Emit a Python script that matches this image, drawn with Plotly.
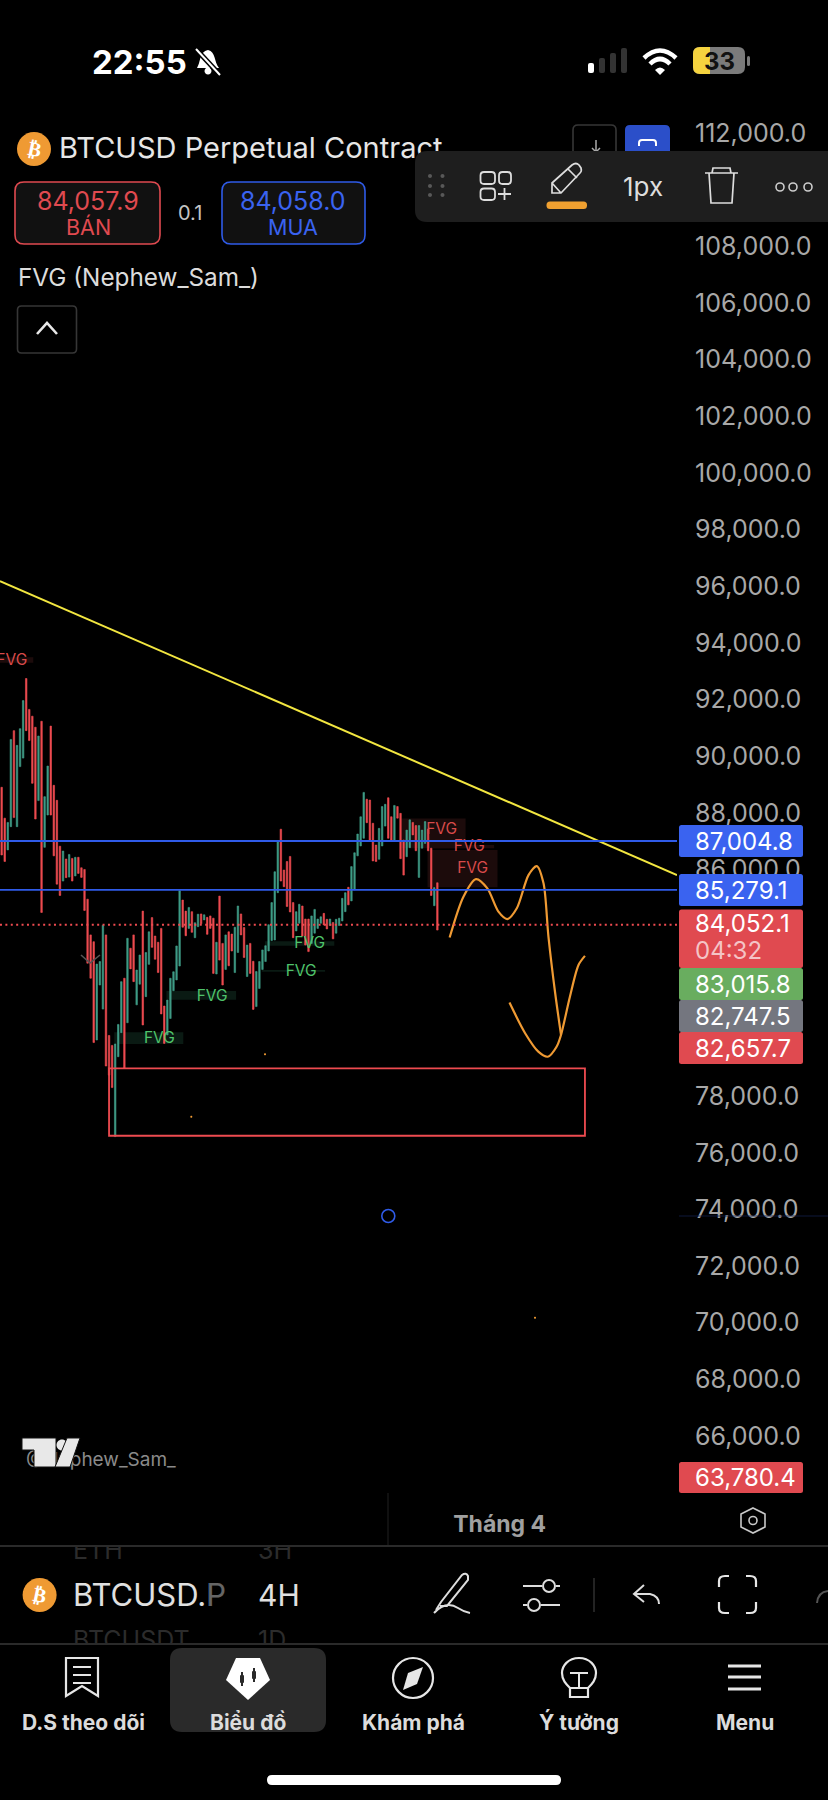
"""
BTCUSD.P 4H chart screen with FVG boxes, levels and a hand drawn path.
"""

import plotly.graph_objects as go

# price data
opens = [
    88900, 87810, 86690, 87510, 90900, 87510, 89630, 89930, 92740, 91650,
    91410, 91020, 88430, 91230, 86780, 87920, 91060, 88970, 88440, 86820,
    85590, 86370, 85730, 86390, 85770, 86430, 86060, 86000, 84950, 83690,
    83450, 79980, 81920, 81070, 83690, 80140, 79790, 76570, 79390, 80240,
    82160, 80590, 83220, 83690, 81220, 81950, 84530, 81510, 82650, 84300,
    83650, 83430, 83920, 81180, 80160, 80740, 81720, 82100, 82590, 84920,
    84530, 83920, 84510, 83590, 83980, 84430, 84220, 84310, 84360, 84280,
    82310, 85060, 83390, 82470, 83800, 83720, 82360, 83070, 84430, 83950,
    82220, 83390, 82760, 81160, 81800, 82470, 82750, 83120, 83490, 83510,
    85180, 87420, 85980, 86280, 86460, 84830, 83830, 84100, 84710, 84250,
    84250, 83390, 83750, 83920, 84100, 84450, 84240, 84020, 84130, 83750,
    84020, 84180, 84510, 85370, 84890, 85280, 86480, 86830, 87100, 88480,
    88450, 87630, 86860, 86360, 86830, 87530, 88530, 87860, 87000, 88220,
    87980, 87040, 86450, 86770, 87660, 87550, 85720, 86750, 86920, 87430,
    86750, 84720, 85530,
]
closes = [
    86510, 86280, 87660, 90590, 87830, 90380, 90970, 91960, 90900, 90550,
    89040, 87780, 90710, 84480, 88570, 89650, 87920, 86480, 85480, 85080,
    86650, 85710, 86530, 85590, 86430, 85860, 85720, 84550, 82690, 82160,
    79890, 82660, 82750, 84030, 79060, 78740, 78300, 79840, 80530, 82040,
    78980, 83570, 82490, 82040, 82450, 82980, 80510, 83070, 83800, 83250,
    82830, 82360, 80900, 79860, 81390, 82160, 82390, 83300, 85250, 83960,
    83660, 84660, 83780, 84120, 84420, 84080, 84400, 83710, 83920, 82330,
    83430, 82800, 81920, 83690, 82600, 83120, 83960, 84710, 83690, 82890,
    83330, 82330, 81060, 82400, 82750, 83160, 83310, 84050, 84830, 85920,
    86980, 85590, 85390, 84690, 84500, 83590, 84510, 84770, 83650, 83330,
    83100, 84360, 84590, 84250, 84330, 84040, 83900, 84250, 83550, 84240,
    84280, 84980, 85180, 84750, 86100, 86590, 87250, 87860, 88720, 87650,
    87040, 86300, 86280, 87450, 88220, 88300, 87100, 87040, 88260, 87810,
    86380, 85800, 87390, 87750, 87220, 86660, 87550, 87390, 87690, 86660,
    85080, 85360, 83860,
]
bar_index = list(range(len(opens)))

tick_prices = [p * 1000 for p in range(66, 114, 2)]
tick_labels = [f"{p:,.1f}" for p in tick_prices]

blue_levels = [87004.8, 85279.1]
last_price = 84052.1
trend_x = [-0.55, 220.1]
trend_y = [96180, 85800]
support_x = [35.0, 190.1]
support_y = [76600, 78980]

# hand drawn path, two strokes
stroke_a_x = [146.0, 150.5, 154.6, 158.3, 161.9, 164.8, 167.9, 171.7, 174.4, 176.6, 178.2, 180.4, 182.3]
stroke_a_y = [83600, 85040, 85660, 85330, 84510, 84250, 84630, 85800, 86120, 85510, 83630, 81630, 80160]
stroke_b_x = [165.5, 170.6, 174.9, 178.0, 180.9, 182.3, 185.2, 188.0, 190.1]
stroke_b_y = [81300, 80220, 79570, 79390, 79750, 80160, 81510, 82630, 82950]

# FVG boxes: x0, x1, y0, y1, label x, label y
fvg_green = [
    (36.7, 59.2, 79840, 80250, 51.4, 80015),
    (53.7, 76.4, 81400, 81710, 68.6, 81510),
    (85.8, 108.4, 83310, 83470, 100.4, 83360),
    (84.8, 105.4, 82390, 82450, 97.6, 82390),
]
fvg_red = [
    (-0.55, 10.3, 93300, 93490, 3.3, 93340),
    (130.4, 151.2, 86750, 87800, 143.4, 87390),
    (139.6, 160.5, 86750, 86860, 152.4, 86780),
    (138.8, 161.6, 85370, 86690, 153.5, 86000),
]

# right hand price tags
tag_rows = [
    ("87,004.8", 825, 857, "#3a63f0"),
    ("85,279.1", 874, 906, "#3a63f0"),
    ("83,015.8", 968, 1000, "#69ad5f"),
    ("82,747.5", 1000, 1032, "#74767f"),
    ("82,657.7", 1032, 1064, "#e04a50"),
    ("63,780.4", 1462, 1493, "#e04a50"),
]

tab_labels = ["D.S theo dõi", "Biểu đồ", "Khám phá", "Ý tưởng", "Menu"]
tab_centers = [83, 248, 413, 579, 744.5]

RED = "#ee4b50"
GREEN = "#3f9c86"
BLUE = "#2f5be8"
ORANGE = "#ef9a33"
FONT = "Inter"

fig = go.Figure()


def rrect(x0, y0, x1, y1, r):
    """Rounded rectangle as an SVG path, in screen pixels."""
    return (
        f"M{x0 + r},{y0} L{x1 - r},{y0} Q{x1},{y0} {x1},{y0 + r} L{x1},{y1 - r} "
        f"Q{x1},{y1} {x1 - r},{y1} L{x0 + r},{y1} Q{x0},{y1} {x0},{y1 - r} "
        f"L{x0},{y0 + r} Q{x0},{y0} {x0 + r},{y0} Z"
    )


def ui(path, fill=None, line=None, width=2, opacity=1.0):
    fig.add_shape(
        type="path",
        path=path,
        xref="x2",
        yref="y2",
        layer="above",
        fillcolor=fill if fill else "rgba(0,0,0,0)",
        line=dict(color=line if line else "rgba(0,0,0,0)", width=width if line else 0),
        opacity=opacity,
    )


def circle(cx, cy, r, ry=None):
    ry = ry or r
    return (
        f"M{cx - r},{cy} C{cx - r},{cy - ry * 0.55} {cx - r * 0.55},{cy - ry} {cx},{cy - ry} "
        f"C{cx + r * 0.55},{cy - ry} {cx + r},{cy - ry * 0.55} {cx + r},{cy} "
        f"C{cx + r},{cy + ry * 0.55} {cx + r * 0.55},{cy + ry} {cx},{cy + ry} "
        f"C{cx - r * 0.55},{cy + ry} {cx - r},{cy + ry * 0.55} {cx - r},{cy} Z"
    )


def txt(x, y, s, size, color="#e6e6e6", anchor="center", weight=None, family=FONT, angle=0):
    fig.add_annotation(
        x=x,
        y=y,
        xref="x2",
        yref="y2",
        text=f"<b>{s}</b>" if weight else s,
        showarrow=False,
        xanchor=anchor,
        yanchor="middle",
        textangle=angle,
        font=dict(family=family, size=size, color=color),
    )


def under_text(x, y, s, size, color):
    # text that has to sit below the overlay shapes
    fig.add_trace(
        go.Scatter(
            x=[x],
            y=[y],
            xaxis="x2",
            yaxis="y2",
            mode="text",
            text=[s],
            textposition="middle right",
            textfont=dict(family=FONT, size=size, color=color),
            hoverinfo="skip",
            showlegend=False,
        )
    )


# FVG boxes sit under the candles
for box, fill in [(b, "#0a1a13") for b in fvg_green] + [(b, "#1c0b0b") for b in fvg_red]:
    fig.add_shape(
        type="rect",
        x0=box[0],
        x1=box[1],
        y0=box[2],
        y1=box[3],
        xref="x",
        yref="y",
        layer="below",
        fillcolor=fill,
        line=dict(width=0),
    )

fig.add_trace(
    go.Candlestick(
        x=bar_index,
        open=opens,
        close=closes,
        high=[max(o, c) for o, c in zip(opens, closes)],
        low=[min(o, c) for o, c in zip(opens, closes)],
        increasing=dict(line=dict(color=GREEN, width=0.6), fillcolor=GREEN),
        decreasing=dict(line=dict(color=RED, width=0.6), fillcolor=RED),
        whiskerwidth=0,
        hoverinfo="skip",
        showlegend=False,
    )
)

for level in blue_levels:
    fig.add_shape(
        type="line", x0=trend_x[0], x1=trend_x[1], y0=level, y1=level,
        xref="x", yref="y", line=dict(color=BLUE, width=1.8),
    )
fig.add_shape(
    type="line", x0=trend_x[0], x1=trend_x[1], y0=last_price, y1=last_price,
    xref="x", yref="y", line=dict(color=RED, width=2, dash="2px,3.4px"),
)

fig.add_trace(
    go.Scatter(
        x=trend_x, y=trend_y, mode="lines",
        line=dict(color="#f2e640", width=2), hoverinfo="skip", showlegend=False,
    )
)
for sx, sy in [(stroke_a_x, stroke_a_y), (stroke_b_x, stroke_b_y)]:
    fig.add_trace(
        go.Scatter(
            x=sx, y=sy, mode="lines",
            line=dict(color=ORANGE, width=2.2, shape="spline", smoothing=0.8),
            hoverinfo="skip", showlegend=False,
        )
    )
fig.add_shape(
    type="rect", x0=support_x[0], x1=support_x[1], y0=support_y[0], y1=support_y[1],
    xref="x", yref="y", line=dict(color=RED, width=1.8),
)

for boxes, color in [(fvg_green, "#4fc36b"), (fvg_red, "#d84a4a")]:
    fig.add_trace(
        go.Scatter(
            x=[b[4] for b in boxes],
            y=[b[5] for b in boxes],
            mode="text",
            text=["FVG"] * len(boxes),
            textfont=dict(family=FONT, size=15.5, color=color),
            hoverinfo="skip",
            showlegend=False,
        )
    )

# text under the overlays
under_text(59, 151, "BTCUSD Perpetual Contract", 29, "#e6e6e6")
under_text(73, 1553, "ETH", 25, "#2c2c2c")
under_text(258, 1553, "3H", 25, "#2c2c2c")
under_text(73, 1643, "BTCUSDT", 25, "#2c2c2c")
under_text(258, 1643, "1D", 25, "#2c2c2c")
under_text(26, 1461, "@Nephew_Sam_", 19, "#8a8a8a")
under_text(73, 1598, "BTCUSD.P", 31, "#e0e0e0")
under_text(258, 1598, "4H", 30, "#e0e0e0")

# status bar
txt(139, 62, "22:55", 33, "#ffffff", weight=True)
ui("M197,68 C201,62 199,52 208,50 C216,52 214,62 219,68 Z", fill="#ffffff")
ui(circle(208, 71, 3.5), fill="#ffffff")
ui("M195,48 L220,75", line="#000000", width=5)
ui("M196,49 L220,75", line="#ffffff", width=2)
for i, (bx, top) in enumerate([(588, 63), (599, 58), (610, 53), (621, 48)]):
    ui(rrect(bx, top, bx + 6, 73, 2), fill="#ffffff" if i == 0 else "#333333")
ui("M644,58 Q660,43 676,58", line="#ffffff", width=4.5)
ui("M650,64 Q660,54 670,64", line="#ffffff", width=4.5)
ui("M655,70 L660,75 L665,70 Q660,65 655,70 Z", fill="#ffffff")
ui(rrect(693, 47, 745, 74, 7), fill="#7b7b7b")
ui("M700,47 L710,47 L710,74 L700,74 Q693,74 693,67 L693,54 Q693,47 700,47 Z", fill="#f5d33f")
ui(rrect(747, 56, 750, 66, 1.5), fill="#7b7b7b")
txt(719, 61, "33", 24, "#111111", weight=True)

# header
ui(circle(34, 149, 17), fill=ORANGE)
txt(34, 149, "₿", 20, "#ffffff", weight=True, family="DejaVu Sans", angle=12)
ui(rrect(15, 182, 160, 244, 9), fill="#111111", line="#e04a50", width=1.6)
txt(88, 201, "84,057.9", 25, "#e04a50")
txt(88, 227, "BÁN", 21.5, "#e04a50")
txt(190, 213, "0.1", 20, "#c4c4c4")
ui(rrect(222, 182, 365, 244, 9), fill="#111111", line=BLUE, width=1.6)
txt(293, 201, "84,058.0", 25, "#3a63f0")
txt(293, 227, "MUA", 21.5, "#3a63f0")
txt(15.5, 277, "FVG (Nephew_Sam_)", 24.3, "#dcdcdc", anchor="left")
ui(rrect(17.5, 306, 76.5, 353, 4), line="#363636", width=1.6)
ui("M37,334 L47,323 L57,334", line="#e8e8e8", width=2.6)

# drawing toolbar, covers the buttons behind it
ui(rrect(573, 125, 616, 170, 5), line="#363636", width=1.6)
ui("M596,140 L596,152 M592,148 L596,152 L600,148", line="#aaaaaa", width=1.5)
ui(rrect(625, 125, 670, 170, 5), fill="#2b4fc9")
ui("M639,146 L639,143 Q639,140 642,140 L653,140 Q656,140 656,143 L656,146", line="#ffffff", width=2)
ui(rrect(415, 151, 840, 222, 12), fill="#1e1e1e")
for gx in (430, 442.5):
    for gy in (176, 186, 195):
        ui(circle(gx, gy, 2), fill="#585858")
ui(rrect(480.5, 172, 495, 184, 3.5), line="#dddddd", width=1.8)
ui(rrect(499, 172, 511, 184, 3.5), line="#dddddd", width=1.8)
ui(rrect(480.5, 188.5, 495, 200, 3.5), line="#dddddd", width=1.8)
ui("M498,194 L511,194 M504.5,188 L504.5,200", line="#dddddd", width=1.8)
ui("M552,193 L552,183 L572,165 Q576,162 579,165 L581,168 Q582,171 580,173 L561,193 Z M552,183 L561,193 M568,169 L577,178",
   line="#dddddd", width=1.7)
ui(rrect(546.5, 201.5, 587, 209, 3.5), fill="#f0a030")
txt(643, 186, "1px", 26, "#dddddd")
ui("M705,173 L738,173 M712,173 L713,168 L730,168 L731,173 M709,173 L711,203 L732,203 L734,173", line="#dddddd", width=1.7)
for ox in (780, 793, 808):
    ui(circle(ox, 187, 4), line="#cccccc", width=1.6)

# small marks on the chart
ui("M81,955 L90,963 L100,955", line="#555555", width=1.6)
ui(circle(191.3, 1116.7, 1), fill=ORANGE)
ui(circle(265, 1054.3, 1), fill=ORANGE)
ui(circle(535, 1317.7, 1), fill=ORANGE)
ui(circle(388.3, 1216, 6.5), line="#2f5be8", width=1.6)
ui("M679,1216 L828,1216", line="#12204a", width=0.8)

# tradingview logo
ui("M22,1438 L56,1438 L56,1467 L34,1467 L34,1450 L22,1450 Z", fill="#e8e8e8", line="#111111", width=1)
ui(circle(62, 1445, 5.5), fill="#e8e8e8")
ui("M67,1438 L80,1438 L70,1467 L55,1467 Z", fill="#e8e8e8", line="#111111", width=1)

# price tags
for label, y0, y1, color in tag_rows:
    ui(rrect(679, y0, 803, y1, 2.5), fill=color)
    txt(693, (y0 + y1) / 2, label, 24, "#ffffff", anchor="left")
ui(rrect(679, 909.5, 803, 968, 2.5), fill="#e04a50")
txt(693, 923, f"{last_price:,.1f}", 24, "#ffffff", anchor="left")
txt(693, 950, "04:32", 24, "#f4c4c6", anchor="left")

# time axis and bottom panels
ui("M388,1493 L388,1545", line="#1b1b1b", width=1.2)
ui("M753,1508 L765,1514 L765,1527 L753,1533 L741,1527 L741,1514 Z", line="#c8c8c8", width=1.6)
ui(circle(753, 1520.5, 4), line="#c8c8c8", width=1.6)
ui("M60,1530 L330,1530 L330,1545 L60,1545 Z", fill="#000000")
ui("M60,1644 L330,1644 L330,1660 L60,1660 Z", fill="#000000")
ui("M0,1546 L828,1546", line="#2a2a2a", width=2)
ui("M0,1644 L828,1644", line="#2a2a2a", width=2)
ui("M209,1575 L226,1575 L226,1620 L209,1620 Z", fill="#000000", opacity=0.55)
ui(circle(39.6, 1595, 17), fill=ORANGE)
txt(39.6, 1595, "₿", 20, "#ffffff", weight=True, family="DejaVu Sans", angle=12)

ui("M436,1610 L441,1602 L462,1575 Q466,1572 468,1576 L468,1580 L447,1606 L440,1606 M434,1613 Q446,1600 458,1608 Q464,1612 470,1613",
   line="#dddddd", width=2)
ui("M523,1586 L542,1586 M556,1586 L560,1586 M523,1605 L527,1605 M541,1605 L560,1605", line="#dddddd", width=2)
ui(circle(549, 1586, 6), line="#dddddd", width=2)
ui(circle(534, 1605, 6), line="#dddddd", width=2)
ui("M594,1578 L594,1612", line="#333333", width=1.4)
ui("M644,1585 L634,1594 L644,1602 M634,1594 L650,1594 Q659,1596 659,1604", line="#dddddd", width=2)
ui("M719,1587 L719,1581 Q719,1576 725,1576 L729,1576 M746,1576 L750,1576 Q756,1576 756,1581 L756,1587 "
   "M756,1602 L756,1608 Q756,1613 750,1613 L746,1613 M729,1613 L725,1613 Q719,1613 719,1608 L719,1602",
   line="#e6e6e6", width=2.2)
ui("M817,1603 Q818,1592 828,1591", line="#555555", width=2)

# tab bar
ui(rrect(170, 1648, 326, 1732, 12), fill="#2a2a2a")
ui("M66,1658 L98,1658 L98,1696 L82,1686 L66,1696 Z", line="#e6e6e6", width=2.2)
ui("M73,1667 L91,1667 M73,1675 L91,1675 M73,1683 L91,1683", line="#e6e6e6", width=2)
ui("M236,1658 L260,1658 L270,1680 L248,1700 L226,1680 Z", fill="#ffffff")
ui("M242,1672 L242,1686 M254,1668 L254,1682", line="#2a2a2a", width=2)
ui(rrect(240, 1675, 244, 1683, 1), fill="#2a2a2a")
ui(rrect(252, 1671, 256, 1679, 1), fill="#2a2a2a")
ui(circle(413, 1678, 20), line="#e6e6e6", width=2.2)
ui("M423,1667 L417,1684 L403,1690 L408,1673 Z", fill="#e6e6e6")
ui("M579,1658 C568,1658 562,1666 562,1673 C562,1680 566,1684 570,1688 L570,1697 L588,1697 L588,1688 C592,1684 596,1680 596,1673 C596,1666 590,1658 579,1658 Z",
   line="#e6e6e6", width=2.2)
ui("M570,1673 L588,1673 M579,1673 L579,1688 M570,1688 L588,1688", line="#e6e6e6", width=2)
ui("M728,1666 L761,1666 M728,1677 L761,1677 M728,1689 L761,1689", line="#e6e6e6", width=3)
for label, cx in zip(tab_labels, tab_centers):
    txt(cx, 1722, label, 21, "#dcdcdc", weight=True)
ui(rrect(267, 1775, 561, 1785, 5), fill="#ffffff")

fig.add_trace(
    go.Scatter(x=[0], y=[0], xaxis="x2", yaxis="y2", mode="markers", marker=dict(opacity=0),
               hoverinfo="skip", showlegend=False)
)

fig.update_layout(
    width=828,
    height=1800,
    margin=dict(l=0, r=0, t=0, b=0, pad=0),
    paper_bgcolor="#000000",
    plot_bgcolor="rgba(0,0,0,0)",
    showlegend=False,
    xaxis=dict(
        domain=[0, 677 / 828],
        range=[-0.54, 220.1],
        rangeslider=dict(visible=False),
        showgrid=False,
        zeroline=False,
        showline=False,
        ticks="outside",
        ticklen=10,
        tickcolor="rgba(0,0,0,0)",
        tickmode="array",
        tickvals=[162.3],
        ticktext=["<b>Tháng 4</b>"],
        tickfont=dict(family=FONT, size=23, color="#a0a0a0"),
    ),
    yaxis=dict(
        domain=[1 - 1493 / 1800, 1 - 100 / 1800],
        range=[63990, 113160],
        side="right",
        showgrid=False,
        zeroline=False,
        showline=False,
        ticks="outside",
        ticklen=12,
        tickcolor="rgba(0,0,0,0)",
        tickmode="array",
        tickvals=tick_prices,
        ticktext=tick_labels,
        tickfont=dict(family=FONT, size=25, color="#a8a8a8"),
    ),
    xaxis2=dict(domain=[0, 1], range=[0, 828], visible=False, anchor="y2"),
    yaxis2=dict(domain=[0, 1], range=[1800, 0], visible=False, anchor="x2"),
)

fig.write_html("out.html", post_script="document.body.style.margin='0';", config={"displayModeBar": False})
